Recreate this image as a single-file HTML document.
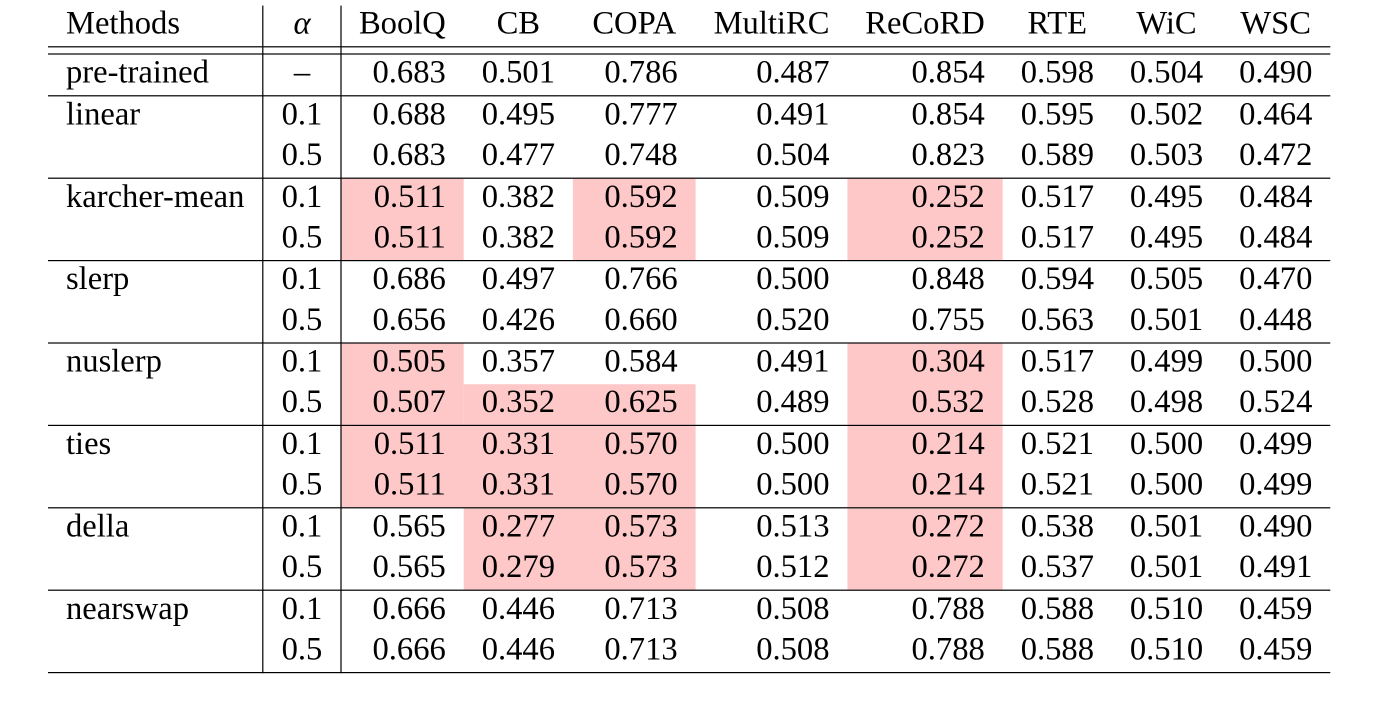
<!DOCTYPE html>
<html>
<head>
<meta charset="utf-8">
<style>
html,body{margin:0;padding:0;background:#fff;}
svg{display:block;}
text{font-family:"Liberation Serif","DejaVu Serif",serif;font-size:32.6px;fill:#000;}
.r{text-anchor:end;}
.c{text-anchor:middle;}
.l{text-anchor:start;}
</style>
</head>
<body>
<svg width="1377" height="705" viewBox="0 0 1377 705" xmlns="http://www.w3.org/2000/svg">
<rect x="0" y="0" width="1377" height="705" fill="#fff"/>
<g fill="#ffc8c8">
<!-- karcher-mean rows: tops 178.8, 219.4 -->
<rect x="341" y="178.8" width="122.7" height="81.2"/>
<rect x="572.9" y="178.8" width="122.7" height="81.2"/>
<rect x="847.4" y="178.8" width="155.3" height="81.2"/>
<!-- nuslerp rows: tops 343.6, 384.2 -->
<rect x="341" y="343.6" width="122.7" height="81.2"/>
<rect x="847.4" y="343.6" width="155.3" height="81.2"/>
<rect x="463.7" y="384.2" width="231.9" height="40.6"/>
<!-- ties rows: tops 426.0, 466.6 -->
<rect x="341" y="426.0" width="354.6" height="81.2"/>
<rect x="847.4" y="426.0" width="155.3" height="81.2"/>
<!-- della rows: tops 508.4, 549.0 -->
<rect x="463.7" y="508.4" width="231.9" height="81.2"/>
<rect x="847.4" y="508.4" width="155.3" height="81.2"/>
</g>
<g fill="#000">
<rect x="48" y="46.2" width="1282.3" height="1.2"/>
<rect x="48" y="53.4" width="1282.3" height="1.2"/>
<rect x="48" y="95.2" width="1282.3" height="1.2"/>
<rect x="48" y="177.6" width="1282.3" height="1.2"/>
<rect x="48" y="260.0" width="1282.3" height="1.2"/>
<rect x="48" y="342.4" width="1282.3" height="1.2"/>
<rect x="48" y="424.8" width="1282.3" height="1.2"/>
<rect x="48" y="507.2" width="1282.3" height="1.2"/>
<rect x="48" y="589.6" width="1282.3" height="1.2"/>
<rect x="48" y="672.0" width="1282.3" height="1.2"/>
<rect x="262.2" y="5.6" width="1.2" height="667.6"/>
<rect x="340.4" y="5.6" width="1.2" height="667.6"/>
</g>

<!-- header -->
<text class="l" x="66" y="33.6">Methods</text>
<text class="c" x="302" y="33.6" font-style="italic">α</text>
<text class="c" x="402.4" y="33.6">BoolQ</text>
<text class="c" x="518.3" y="33.6">CB</text>
<text class="c" x="634.3" y="33.6">COPA</text>
<text class="c" x="771.5" y="33.6">MultiRC</text>
<text class="c" x="925" y="33.6">ReCoRD</text>
<text class="c" x="1057.3" y="33.6">RTE</text>
<text class="c" x="1166.5" y="33.6">WiC</text>
<text class="c" x="1275.7" y="33.6">WSC</text>

<!-- pre-trained y=82.6 -->
<g>
<text class="l" x="66" y="82.6">pre-trained</text>
<text class="c" x="302" y="82.6">–</text>
<text class="r" x="445.8" y="82.6">0.683</text>
<text class="r" x="555" y="82.6">0.501</text>
<text class="r" x="677.7" y="82.6">0.786</text>
<text class="r" x="829.5" y="82.6">0.487</text>
<text class="r" x="984.8" y="82.6">0.854</text>
<text class="r" x="1094" y="82.6">0.598</text>
<text class="r" x="1203.2" y="82.6">0.504</text>
<text class="r" x="1312.4" y="82.6">0.490</text>
</g>

<!-- linear 124.4 / 165.0 -->
<text class="l" x="66" y="124.4">linear</text>
<text class="c" x="302" y="124.4">0.1</text>
<text class="r" x="445.8" y="124.4">0.688</text>
<text class="r" x="555" y="124.4">0.495</text>
<text class="r" x="677.7" y="124.4">0.777</text>
<text class="r" x="829.5" y="124.4">0.491</text>
<text class="r" x="984.8" y="124.4">0.854</text>
<text class="r" x="1094" y="124.4">0.595</text>
<text class="r" x="1203.2" y="124.4">0.502</text>
<text class="r" x="1312.4" y="124.4">0.464</text>
<text class="c" x="302" y="165.0">0.5</text>
<text class="r" x="445.8" y="165.0">0.683</text>
<text class="r" x="555" y="165.0">0.477</text>
<text class="r" x="677.7" y="165.0">0.748</text>
<text class="r" x="829.5" y="165.0">0.504</text>
<text class="r" x="984.8" y="165.0">0.823</text>
<text class="r" x="1094" y="165.0">0.589</text>
<text class="r" x="1203.2" y="165.0">0.503</text>
<text class="r" x="1312.4" y="165.0">0.472</text>

<!-- karcher 206.8 / 247.4 -->
<text class="l" x="66" y="206.8">karcher-mean</text>
<text class="c" x="302" y="206.8">0.1</text>
<text class="r" x="445.8" y="206.8">0.511</text>
<text class="r" x="555" y="206.8">0.382</text>
<text class="r" x="677.7" y="206.8">0.592</text>
<text class="r" x="829.5" y="206.8">0.509</text>
<text class="r" x="984.8" y="206.8">0.252</text>
<text class="r" x="1094" y="206.8">0.517</text>
<text class="r" x="1203.2" y="206.8">0.495</text>
<text class="r" x="1312.4" y="206.8">0.484</text>
<text class="c" x="302" y="247.4">0.5</text>
<text class="r" x="445.8" y="247.4">0.511</text>
<text class="r" x="555" y="247.4">0.382</text>
<text class="r" x="677.7" y="247.4">0.592</text>
<text class="r" x="829.5" y="247.4">0.509</text>
<text class="r" x="984.8" y="247.4">0.252</text>
<text class="r" x="1094" y="247.4">0.517</text>
<text class="r" x="1203.2" y="247.4">0.495</text>
<text class="r" x="1312.4" y="247.4">0.484</text>

<!-- slerp 289.2 / 329.8 -->
<text class="l" x="66" y="289.2">slerp</text>
<text class="c" x="302" y="289.2">0.1</text>
<text class="r" x="445.8" y="289.2">0.686</text>
<text class="r" x="555" y="289.2">0.497</text>
<text class="r" x="677.7" y="289.2">0.766</text>
<text class="r" x="829.5" y="289.2">0.500</text>
<text class="r" x="984.8" y="289.2">0.848</text>
<text class="r" x="1094" y="289.2">0.594</text>
<text class="r" x="1203.2" y="289.2">0.505</text>
<text class="r" x="1312.4" y="289.2">0.470</text>
<text class="c" x="302" y="329.8">0.5</text>
<text class="r" x="445.8" y="329.8">0.656</text>
<text class="r" x="555" y="329.8">0.426</text>
<text class="r" x="677.7" y="329.8">0.660</text>
<text class="r" x="829.5" y="329.8">0.520</text>
<text class="r" x="984.8" y="329.8">0.755</text>
<text class="r" x="1094" y="329.8">0.563</text>
<text class="r" x="1203.2" y="329.8">0.501</text>
<text class="r" x="1312.4" y="329.8">0.448</text>

<!-- nuslerp 371.6 / 412.2 -->
<text class="l" x="66" y="371.6">nuslerp</text>
<text class="c" x="302" y="371.6">0.1</text>
<text class="r" x="445.8" y="371.6">0.505</text>
<text class="r" x="555" y="371.6">0.357</text>
<text class="r" x="677.7" y="371.6">0.584</text>
<text class="r" x="829.5" y="371.6">0.491</text>
<text class="r" x="984.8" y="371.6">0.304</text>
<text class="r" x="1094" y="371.6">0.517</text>
<text class="r" x="1203.2" y="371.6">0.499</text>
<text class="r" x="1312.4" y="371.6">0.500</text>
<text class="c" x="302" y="412.2">0.5</text>
<text class="r" x="445.8" y="412.2">0.507</text>
<text class="r" x="555" y="412.2">0.352</text>
<text class="r" x="677.7" y="412.2">0.625</text>
<text class="r" x="829.5" y="412.2">0.489</text>
<text class="r" x="984.8" y="412.2">0.532</text>
<text class="r" x="1094" y="412.2">0.528</text>
<text class="r" x="1203.2" y="412.2">0.498</text>
<text class="r" x="1312.4" y="412.2">0.524</text>

<!-- ties 454.0 / 494.6 -->
<text class="l" x="66" y="454.0">ties</text>
<text class="c" x="302" y="454.0">0.1</text>
<text class="r" x="445.8" y="454.0">0.511</text>
<text class="r" x="555" y="454.0">0.331</text>
<text class="r" x="677.7" y="454.0">0.570</text>
<text class="r" x="829.5" y="454.0">0.500</text>
<text class="r" x="984.8" y="454.0">0.214</text>
<text class="r" x="1094" y="454.0">0.521</text>
<text class="r" x="1203.2" y="454.0">0.500</text>
<text class="r" x="1312.4" y="454.0">0.499</text>
<text class="c" x="302" y="494.6">0.5</text>
<text class="r" x="445.8" y="494.6">0.511</text>
<text class="r" x="555" y="494.6">0.331</text>
<text class="r" x="677.7" y="494.6">0.570</text>
<text class="r" x="829.5" y="494.6">0.500</text>
<text class="r" x="984.8" y="494.6">0.214</text>
<text class="r" x="1094" y="494.6">0.521</text>
<text class="r" x="1203.2" y="494.6">0.500</text>
<text class="r" x="1312.4" y="494.6">0.499</text>

<!-- della 536.4 / 577.0 -->
<text class="l" x="66" y="536.4">della</text>
<text class="c" x="302" y="536.4">0.1</text>
<text class="r" x="445.8" y="536.4">0.565</text>
<text class="r" x="555" y="536.4">0.277</text>
<text class="r" x="677.7" y="536.4">0.573</text>
<text class="r" x="829.5" y="536.4">0.513</text>
<text class="r" x="984.8" y="536.4">0.272</text>
<text class="r" x="1094" y="536.4">0.538</text>
<text class="r" x="1203.2" y="536.4">0.501</text>
<text class="r" x="1312.4" y="536.4">0.490</text>
<text class="c" x="302" y="577.0">0.5</text>
<text class="r" x="445.8" y="577.0">0.565</text>
<text class="r" x="555" y="577.0">0.279</text>
<text class="r" x="677.7" y="577.0">0.573</text>
<text class="r" x="829.5" y="577.0">0.512</text>
<text class="r" x="984.8" y="577.0">0.272</text>
<text class="r" x="1094" y="577.0">0.537</text>
<text class="r" x="1203.2" y="577.0">0.501</text>
<text class="r" x="1312.4" y="577.0">0.491</text>

<!-- nearswap 618.8 / 659.4 -->
<text class="l" x="66" y="618.8">nearswap</text>
<text class="c" x="302" y="618.8">0.1</text>
<text class="r" x="445.8" y="618.8">0.666</text>
<text class="r" x="555" y="618.8">0.446</text>
<text class="r" x="677.7" y="618.8">0.713</text>
<text class="r" x="829.5" y="618.8">0.508</text>
<text class="r" x="984.8" y="618.8">0.788</text>
<text class="r" x="1094" y="618.8">0.588</text>
<text class="r" x="1203.2" y="618.8">0.510</text>
<text class="r" x="1312.4" y="618.8">0.459</text>
<text class="c" x="302" y="659.4">0.5</text>
<text class="r" x="445.8" y="659.4">0.666</text>
<text class="r" x="555" y="659.4">0.446</text>
<text class="r" x="677.7" y="659.4">0.713</text>
<text class="r" x="829.5" y="659.4">0.508</text>
<text class="r" x="984.8" y="659.4">0.788</text>
<text class="r" x="1094" y="659.4">0.588</text>
<text class="r" x="1203.2" y="659.4">0.510</text>
<text class="r" x="1312.4" y="659.4">0.459</text>
</svg>
</body>
</html>
